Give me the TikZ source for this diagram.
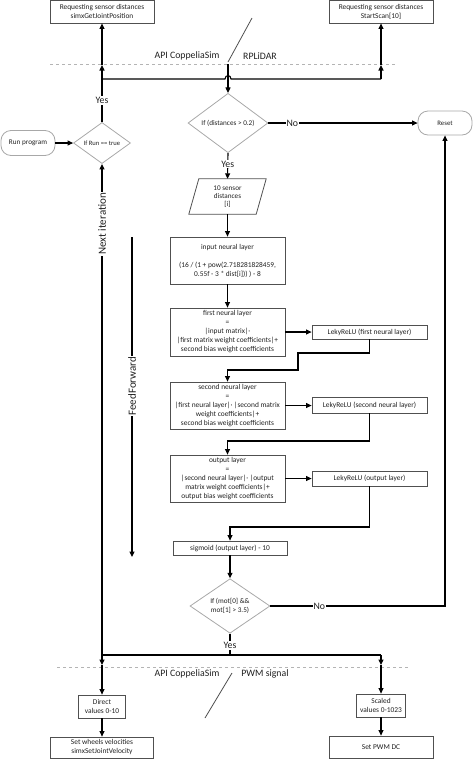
\documentclass[tikz,border=0pt]{standalone}
\usepackage{fontspec}
\setmainfont{Carlito}
\usetikzlibrary{arrows.meta,shapes.geometric}
\definecolor{boxc}{HTML}{505050}
\definecolor{diac}{HTML}{A8A8A8}
\definecolor{sepc}{HTML}{B4B4B4}
\definecolor{txtc}{HTML}{202020}
\begin{document}
\begin{tikzpicture}[x=1pt,y=-1pt,
  box/.style={draw=boxc, line width=0.8pt, inner sep=1pt, align=center, text=txtc,
    font=\fontsize{7.4}{9}\selectfont},
  dia/.style={diamond, draw=diac, line width=0.8pt, inner sep=0pt, align=center, text=txtc,
    font=\fontsize{7.2}{9}\selectfont},
  rnd/.style={draw=diac, line width=0.8pt, rounded corners=10pt, inner sep=0pt, text=txtc,
    font=\fontsize{7.2}{9}\selectfont},
  ln/.style={line width=1.1pt, draw=black},
  arr/.style={ln, -{Triangle[length=5.5pt,width=5pt]}},
  lab/.style={fill=white, inner sep=1pt, text=txtc, font=\fontsize{9.8}{12}\selectfont},
  biglab/.style={fill=white, inner sep=1pt, text=txtc, font=\fontsize{11}{13}\selectfont},
  sep/.style={draw=sepc, line width=0.8pt, dash pattern=on 3pt off 3pt},
  slash/.style={draw=boxc, line width=0.8pt},
  free/.style={text=txtc, inner sep=0pt, font=\fontsize{9.8}{12}\selectfont}]
\useasboundingbox (0,0) rectangle (474,761);

% top boxes
\node[box, minimum width=104pt, minimum height=22.5pt] (reqL) at (102,11.75) {Requesting sensor distances\\simxGetJointPosition};
\node[box, minimum width=104pt, minimum height=22.5pt] (reqR) at (381,11.75) {Requesting sensor distances\\StartScan[10]};

% separator top
\draw[sep] (50,64) -- (397,64);
\draw[slash] (228,62) -- (252,18);
\node[free] (apiT) at (187,56) {API CoppeliaSim};
\node[free] (lidT) at (260,56) {RPLiDAR};

% coordinates
\coordinate (tL) at (102,65);
\coordinate (tR) at (381,65);
\coordinate (jL) at (102,79);
\coordinate (jR) at (381,79);
\coordinate (hopA) at (225,79);
\coordinate (hopB) at (231,79);
\coordinate (tM) at (228,64);

% decision nodes
\node[dia, minimum width=80pt, minimum height=46pt] (dist) at (228,123) {If (distances > 0.2)};
\node[rnd, minimum width=54pt, minimum height=24pt, font=\fontsize{6.8}{8}\selectfont] (reset) at (445,123) {Reset};
\node[rnd, minimum width=54pt, minimum height=25pt] (run) at (28,143) {Run program};
\node[dia, minimum width=57pt, minimum height=26pt, font=\fontsize{6.6}{8}\selectfont] (ifrun) at (102,143) {If Run == true};

% sensor parallelogram
\node[inner sep=0pt, align=center, text=txtc, font=\fontsize{7.2}{8.2}\selectfont,
  minimum width=67pt, minimum height=35pt] (sens) at (227.5,196.5) {10 sensor\\distances\\{[i]}};
\draw[draw=boxc, line width=0.8pt] ([xshift=5pt]sens.north west) -- ([xshift=5pt]sens.north east)
  -- ([xshift=-5pt]sens.south east) -- ([xshift=-5pt]sens.south west) -- cycle;

% layers
\node[box, minimum width=115pt, minimum height=47pt] (inp) at (227.5,260.5)
  {input neural layer\\[9pt](16 / (1 + pow(2.718281828459,\\0.55f - 3 * dist[i])) ) - 8};
\node[box, minimum width=115pt, minimum height=48pt] (l1) at (227.5,332)
  {first neural layer\\=\\|input matrix|·\\|first matrix weight coefficients|+\\second bias weight coefficients};
\node[box, minimum width=115pt, minimum height=14pt] (r1) at (369.5,332) {LekyReLU (first neural layer)};
\node[box, minimum width=115pt, minimum height=47pt] (l2) at (227.5,405.5)
  {second neural layer\\=\\|first neural layer|· |second matrix\\weight coefficients|+\\second bias weight coefficients};
\node[box, minimum width=115pt, minimum height=16pt] (r2) at (369.5,405) {LekyReLU (second neural layer)};
\node[box, minimum width=115pt, minimum height=47pt] (lo) at (227.5,478.5)
  {output layer\\=\\|second neural layer|· |output\\matrix weight coefficients|+\\output bias weight coefficients};
\node[box, minimum width=115pt, minimum height=15pt] (ro) at (369.5,478.5) {LekyReLU (output layer)};
\node[box, minimum width=114pt, minimum height=14pt] (sig) at (230,548) {sigmoid (output layer) - 10};
\node[dia, minimum width=80pt, minimum height=48pt] (mot) at (230,606) {If (mot[0] \&\&\\mot[1] > 3.5)};

% bottom
\coordinate (jBL) at (102,655);
\coordinate (jBR) at (381,655);
\coordinate (jBM) at (230,655);
\coordinate (bL) at (102,665);
\coordinate (bR) at (381,665);
\draw[sep] (57,667) -- (409,667);
\draw[slash] (205,718) -- (232,673);
\node[free] (apiB) at (187,674) {API CoppeliaSim};
\node[free] (pwmB) at (265,674) {PWM signal};

\node[box, minimum width=47pt, minimum height=23pt] (dir) at (102,706.5) {Direct\\values 0-10};
\node[box, minimum width=103pt, minimum height=21pt] (wheels) at (102,747.5) {Set wheels velocities\\simxSetJointVelocity};
\node[box, minimum width=49pt, minimum height=23pt] (scaled) at (381,705.5) {Scaled\\values 0-1023};
\node[box, minimum width=104pt, minimum height=22pt] (pwm) at (381,747) {Set PWM DC};

% feedforward marker
\coordinate (ffA) at (132,237);
\coordinate (ffB) at (132,557);

% connectors top
\draw[arr] (ifrun.north) -- node[lab,pos=.38]{Yes} (tL);
\draw[arr] (tL) -- (reqL.south);
\draw[ln] (jL) -- (hopA) .. controls (225,74.5) and (231,74.5) .. (hopB) -- (jR);
\draw[arr] (jR) -- (tR);
\draw[arr] (tR) -- (reqR.south);
\draw[arr] (tM) -- (dist.north);
\draw[arr] (run.east) -- (ifrun.west);
\draw[arr] (dist.east) -- node[lab,pos=.16]{No} (reset.west);
\draw[arr] (dist.south) -- node[lab,pos=.42]{Yes} (sens.north);
\draw[arr] (sens.south) -- (inp.north);
\draw[arr] (inp.south) -- (l1.north);
\draw[arr] (l1.east) -- (l1.east -| r1.west);
\draw[arr] (r1.south) -- (369.5,353) -- (298,353) -- (298,370) -- (227.5,370) -- (l2.north);
\draw[arr] (l2.east) -- (l2.east -| r2.west);
\draw[arr] (r2.south) -- (369.5,441) -- (227.5,441) -- (lo.north);
\draw[arr] (lo.east) -- (lo.east -| ro.west);
\draw[arr] (ro.south) -- (369.5,527) -- (230,527) -- (sig.north);
\draw[arr] (sig.south) -- (mot.north);
\draw[arr] (mot.east) -- node[lab,pos=.28]{No} (mot.east -| reset.south) -- (reset.south);
\draw[ln] (mot.south) -- node[lab,pos=.55]{Yes} (jBM);
\draw[ln] (jBL) -- (jBR);
\draw[arr] (jBL) -- (bL);
\draw[arr] (bL) -- (dir.north);
\draw[arr] (jBR) -- (bR);
\draw[arr] (bR) -- (scaled.north);
\draw[arr] (dir.south) -- (wheels.north);
\draw[arr] (scaled.south) -- (pwm.north);
\draw[arr] (jBL) -- node[biglab, rotate=90, pos=.878]{Next iteration} (ifrun.south);
\draw[arr] (ffA) -- node[biglab, rotate=90, pos=.466]{FeedForward} (ffB);
\end{tikzpicture}
\end{document}
